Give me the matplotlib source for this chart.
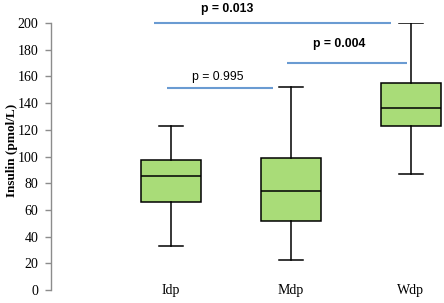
import matplotlib
matplotlib.use("Agg")
import matplotlib.pyplot as plt

plt.rcParams["font.family"] = ["Liberation Serif", "DejaVu Serif"]

categories = ["Idp", "Mdp", "Wdp"]
whisker_low = [33, 22.5, 87]
q1 = [66, 52, 123]
median = [85.4, 74.4, 136.6]
q3 = [97.4, 99, 154.8]
whisker_high = [123, 152.3, 200]

yticks = list(range(0, 201, 20))

# significance brackets
sig_labels = ["p = 0.013", "p = 0.004", "p = 0.995"]
sig_x0 = [0.86, 1.97, 0.97]
sig_x1 = [2.84, 2.97, 1.855]
sig_y = [199.7, 170.3, 151.3]
sig_text_x = [1.467, 2.40, 1.39]
sig_text_y = [210.5, 184.0, 159.8]
sig_bold = [True, True, False]

W, H = 444, 303
fig = plt.figure(figsize=(W / 100, H / 100), dpi=100)
left_px, right_px, top_px, bot_px = 50.7, 444, 23, 290
ax = fig.add_axes([left_px / W, (H - bot_px) / H, (right_px - left_px) / W, (bot_px - top_px) / H])

positions = [1, 2, 3]
stats = []
for i, c in enumerate(categories):
    stats.append(dict(label=c, whislo=whisker_low[i], q1=q1[i], med=median[i],
                      q3=q3[i], whishi=whisker_high[i], fliers=[]))

ax.bxp(stats, positions=positions, widths=0.5, patch_artist=True, showfliers=False,
       boxprops=dict(facecolor="#a9dc78", edgecolor="black", linewidth=1.1),
       medianprops=dict(color="black", linewidth=1.1),
       whiskerprops=dict(color="black", linewidth=1.1),
       capprops=dict(color="black", linewidth=1.1),
       capwidths=0.2)

for lab, x0, x1, y, tx, ty, b in zip(sig_labels, sig_x0, sig_x1, sig_y, sig_text_x, sig_text_y, sig_bold):
    ax.plot([x0, x1], [y, y], color="#6a9bd2", linewidth=1.5, clip_on=False, solid_capstyle="butt")
    ax.text(tx, ty, lab, ha="center", va="center", fontsize=8.8,
            fontweight="bold" if b else "normal", family=["Liberation Sans", "DejaVu Sans"], clip_on=False)

ax.set_xlim(0, (right_px - left_px) / 120)
ax.set_ylim(0, 200)
ax.set_yticks(yticks)
ax.set_yticklabels([str(t) for t in yticks], fontsize=10)
ax.tick_params(axis="y", direction="out", length=4, color="#8c8c8c", width=1, pad=5)
ax.set_xticks([])
for s in ["top", "right", "bottom"]:
    ax.spines[s].set_visible(False)
ax.spines["left"].set_color("#8c8c8c")
ax.spines["left"].set_linewidth(1)

for p, c in zip(positions, categories):
    ax.text(p, -0.7, c, ha="center", va="center", fontsize=10, clip_on=False)

fig.text(12 / W, 1 - 150 / H, "Insulin (pmol/L)", rotation=90, ha="center", va="center",
         fontweight="bold", fontsize=9.5)

fig.savefig("out.png", dpi=100)
